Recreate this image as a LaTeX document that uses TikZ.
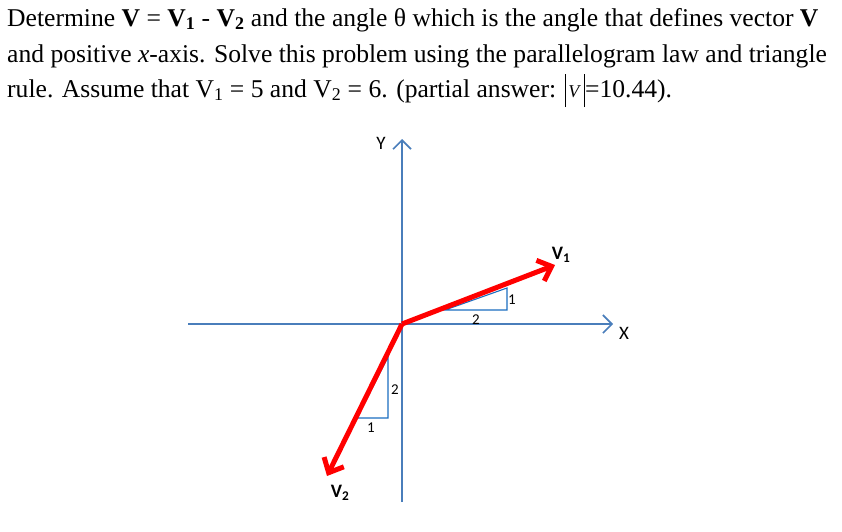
\documentclass[tikz,border=0pt]{standalone}
\usepackage{fontspec}
\setmainfont{Liberation Serif}
\newfontfamily\calib{Carlito}
\usetikzlibrary{arrows.meta}
\definecolor{axisblue}{HTML}{4A7EBB}
\definecolor{triblue}{HTML}{1A6DC0}
\tikzset{
  axis/.style={draw=axisblue, line width=1.6pt, -{Straight Barb[length=9pt,width=18pt,line width=1.6pt]}},
  vec/.style={draw=red, line width=5pt, -{Straight Barb[length=12pt,width=22pt,line width=5pt]}},
  tri/.style={draw=triblue, line width=1.1pt},
  prob/.style={anchor=base west, inner sep=0pt, font=\fontsize{25.6}{30}\selectfont},
  lbl/.style={inner sep=0pt, font=\calib\fontsize{19}{21}\selectfont},
  num/.style={inner sep=0pt, font=\calib\fontsize{15}{17}\selectfont}
}
\newcommand{\vb}[1]{\textbf{V}\textsubscript{\textbf{#1}}}
\newcommand{\absbar}{\raisebox{-0.4em}{\rule{0.7pt}{1.3em}}}
\begin{document}
\begin{tikzpicture}[x=1pt, y=-1pt]
        \useasboundingbox (0, 0) rectangle (842, 531);
        % problem text
        \node[prob] (l1) at (7, 26) {Determine \textbf{V} = \vb{1} - \vb{2} and the angle θ which is the angle that defines vector \textbf{V}};
        \node[prob] (l2) at (7, 62) {and positive \textit{x}-axis. Solve this problem using the parallelogram law and triangle};
        \node[prob] (l3) at (7, 97) {rule. Assume that V\textsubscript{1} = 5 and V\textsubscript{2} = 6. (partial answer: \absbar\hspace{3pt}{\fontsize{18}{20}\selectfont\itshape V}\hspace{5pt}\absbar=10.44).};
        % axes
        \coordinate (O) at (402, 324);
        \coordinate (xl) at (188, 324);
        \coordinate (xr) at (613, 324);
        \coordinate (yb) at (402, 502);
        \coordinate (yt) at (402, 139);
        \draw[axis] (xl) -- (xr);
        \draw[axis] (yb) -- (yt);
        \node[lbl] (X) at (624, 333) {X};
        \node[lbl] (Y) at (381, 143) {Y};
        % slope triangles
        \draw[tri] (445, 310) -- (507, 310) -- (507, 288) -- cycle;
        \node[num] (a2) at (476, 320) {2};
        \node[num] (a1) at (512, 300) {1};
        \draw[tri] (357, 418) -- (388, 418) -- (388, 357) -- cycle;
        \node[num] (b2) at (395, 390) {2};
        \node[num] (b1) at (371, 428) {1};
        % vectors
        \coordinate (v1) at (555, 265);
        \coordinate (v2) at (327, 476);
        \draw[vec] (O) -- (v1);
        \draw[vec] (O) -- (v2);
        \node[lbl] (V1) at (561, 255) {\bfseries V\textsubscript{1}};
        \node[lbl] (V2) at (340, 493) {\bfseries V\textsubscript{2}};
    \end{tikzpicture}
\end{document}
